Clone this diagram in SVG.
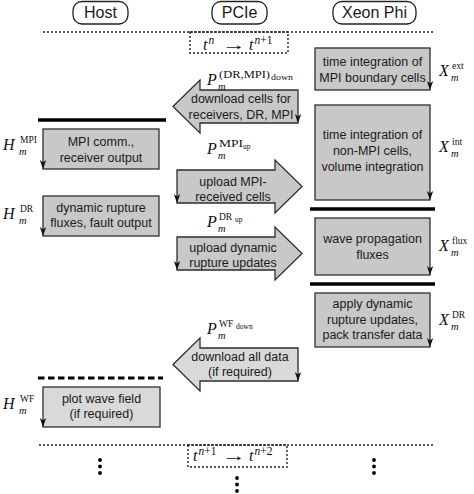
<svg xmlns="http://www.w3.org/2000/svg" xmlns:xlink="http://www.w3.org/1999/xlink" width="474" height="494" viewBox="0 0 474 494">
<style>
.bg{fill:#ffffff}
.box{fill:#c8c8c8;stroke:#2e2e2e;stroke-width:1.3}
.lt{fill:#d9d9d9}
.pill{fill:#ffffff;stroke:#222;stroke-width:1.3}
.t{font-family:"Liberation Sans",Arial,sans-serif;font-size:12.5px;fill:#1a1a1a;text-anchor:middle}
.hd{font-size:16px}
.mi{font-family:"Liberation Serif","Times New Roman",serif;font-style:italic;font-size:16px;fill:#111}
.mr{font-style:normal}
.sp{font-size:9.5px}
.ss{font-size:7.5px}
.sb{font-size:10.5px;font-style:italic}
.dot{fill:none;stroke:#222;stroke-width:1.4;stroke-dasharray:2 2}
.thick{stroke:#000;stroke-width:3.5;fill:none}
.dash{stroke:#000;stroke-width:3;stroke-dasharray:6.5 3.5;fill:none}
.ah{fill:#111}
.vd{fill:#000}
</style>
<defs>
<path id="ah" d="M0,0 L-3.2,-9 L0,-6.5 L3.2,-9 Z"/>
</defs>
<rect class="bg" x="0" y="0" width="474" height="494"/>

<g id="headers">
<g id="host-header"><rect class="pill" x="73" y="1.5" width="55" height="22.5" rx="9"/><text class="t hd" x="100.5" y="18">Host</text></g>
<g id="pcie-header"><rect class="pill" x="212" y="1.5" width="55" height="22.5" rx="9"/><text class="t hd" x="239.5" y="18">PCIe</text></g>
<g id="xeon-header"><rect class="pill" x="333" y="1.5" width="83" height="22.5" rx="9"/><text class="t hd" x="374.5" y="18">Xeon Phi</text></g>
</g>

<g id="connectors">
<line class="dot" x1="43" y1="32" x2="435" y2="32"/>
<line class="dot" x1="39" y1="445" x2="435" y2="445"/>
<line class="thick" x1="38" y1="120" x2="166" y2="120"/>
<line class="thick" x1="310" y1="209" x2="435" y2="209"/>
<line class="thick" x1="310" y1="284" x2="435" y2="284"/>
<line class="dash" x1="38" y1="378" x2="163" y2="378"/>
<circle class="vd" cx="100" cy="460" r="1.9"/><circle class="vd" cx="100" cy="466.5" r="1.9"/><circle class="vd" cx="100" cy="473" r="1.9"/>
<circle class="vd" cx="374" cy="460" r="1.9"/><circle class="vd" cx="374" cy="466.5" r="1.9"/><circle class="vd" cx="374" cy="473" r="1.9"/>
<circle class="vd" cx="237" cy="478" r="1.9"/><circle class="vd" cx="237" cy="484.5" r="1.9"/><circle class="vd" cx="237" cy="491" r="1.9"/>
</g>

<g id="step-1">
<rect class="dot" x="190" y="32" width="98" height="21"/>
<text class="mi" x="203" y="50">t<tspan x="208.5" dy="-6.5" style="font-size:11.5px">n</tspan><tspan class="mr" x="222" dy="6.5" textLength="24" lengthAdjust="spacingAndGlyphs">→</tspan><tspan x="249">t</tspan><tspan x="254.5" dy="-6.5" style="font-size:11.5px">n</tspan><tspan class="mr" style="font-size:11.5px">+1</tspan></text>
</g>

<g id="step-2">
<rect class="dot" x="188" y="445" width="99" height="22"/>
<text class="mi" x="193" y="461">t<tspan x="198.5" dy="-6.5" style="font-size:11.5px">n</tspan><tspan class="mr" style="font-size:11.5px">+1</tspan><tspan class="mr" x="222" dy="6.5" textLength="24" lengthAdjust="spacingAndGlyphs">→</tspan><tspan x="249">t</tspan><tspan x="254.5" dy="-6.5" style="font-size:11.5px">n</tspan><tspan class="mr" style="font-size:11.5px">+2</tspan></text>
</g>

<g id="x-ext">
<rect class="box" x="315" y="48" width="115" height="42"/>
<text class="t" x="372.5" y="65.5">time integration of</text>
<text class="t" x="372.5" y="81.5">MPI boundary cells</text>
<use xlink:href="#ah" href="#ah" class="ah" x="430" y="90"/>
<text class="mi" x="439" y="76">X<tspan class="mr sp" x="452" dy="-7">ext</tspan><tspan class="sb" x="451" dy="12">m</tspan></text>
</g>

<g id="x-int">
<rect class="box" x="315" y="105" width="115" height="95"/>
<text class="t" x="372.5" y="139">time integration of</text>
<text class="t" x="372.5" y="155">non-MPI cells,</text>
<text class="t" x="372.5" y="170.5">volume integration</text>
<use xlink:href="#ah" href="#ah" class="ah" x="430" y="200"/>
<text class="mi" x="439" y="152">X<tspan class="mr sp" x="452" dy="-7">int</tspan><tspan class="sb" x="451" dy="12">m</tspan></text>
</g>

<g id="x-flux">
<rect class="box" x="315" y="218" width="115" height="57"/>
<text class="t" x="372.5" y="243">wave propagation</text>
<text class="t" x="372.5" y="258.5">fluxes</text>
<use xlink:href="#ah" href="#ah" class="ah" x="430" y="275"/>
<text class="mi" x="439" y="251">X<tspan class="mr sp" x="452" dy="-7">flux</tspan><tspan class="sb" x="451" dy="12">m</tspan></text>
</g>

<g id="x-dr">
<rect class="box" x="315" y="293" width="115" height="54"/>
<text class="t" x="372.5" y="308">apply dynamic</text>
<text class="t" x="372.5" y="323.5">rupture updates,</text>
<text class="t" x="372.5" y="339">pack transfer data</text>
<use xlink:href="#ah" href="#ah" class="ah" x="430" y="347"/>
<text class="mi" x="439" y="325">X<tspan class="mr sp" x="452" dy="-7">DR</tspan><tspan class="sb" x="451" dy="12">m</tspan></text>
</g>

<g id="p-down-1">
<path class="box" d="M173,106.5 L200,80 L200,90 L298,90 L298,123 L200,123 L200,133 Z"/>
<text class="t" x="241" y="103">download cells for</text>
<text class="t" x="241" y="118.5">receivers, DR, MPI</text>
<use xlink:href="#ah" href="#ah" class="ah" x="298" y="123"/>
<text class="mi" x="207" y="85">P<tspan class="mr sp" x="219" dy="-7" textLength="51" lengthAdjust="spacingAndGlyphs">(DR,MPI)</tspan><tspan class="mr ss" x="271" dy="2" textLength="22" lengthAdjust="spacingAndGlyphs">down</tspan><tspan class="sb" x="218" dy="10">m</tspan></text>
</g>

<g id="p-up-mpi">
<path class="box" d="M177,170 L275,170 L275,160 L302,186.5 L275,213 L275,203 L177,203 Z"/>
<text class="t" x="233" y="186">upload MPI-</text>
<text class="t" x="233" y="201">received cells</text>
<use xlink:href="#ah" href="#ah" class="ah" x="177" y="203"/>
<text class="mi" x="207" y="154">P<tspan class="mr sp" x="219" dy="-7" textLength="24" lengthAdjust="spacingAndGlyphs">MPI</tspan><tspan class="mr ss" x="243" dy="2">up</tspan><tspan class="sb" x="218" dy="10">m</tspan></text>
</g>

<g id="p-up-dr">
<path class="box" d="M177,237 L275,237 L275,227 L302,253.5 L275,280 L275,270 L177,270 Z"/>
<text class="t" x="233" y="251.5">upload dynamic</text>
<text class="t" x="233" y="266.5">rupture updates</text>
<use xlink:href="#ah" href="#ah" class="ah" x="177" y="270"/>
<text class="mi" x="207" y="227">P<tspan class="mr sp" x="219" dy="-7">DR</tspan><tspan class="mr ss" x="235" dy="2">up</tspan><tspan class="sb" x="218" dy="10">m</tspan></text>
</g>

<g id="p-down-wf">
<path class="box lt" d="M173,364.5 L200,338 L200,348 L298,348 L298,381 L200,381 L200,391 Z"/>
<text class="t" x="240" y="361">download all data</text>
<text class="t" x="240" y="376">(if required)</text>
<use xlink:href="#ah" href="#ah" class="ah" x="298" y="381"/>
<text class="mi" x="207" y="334">P<tspan class="mr sp" x="219" dy="-7">WF</tspan><tspan class="mr ss" x="236" dy="2">down</tspan><tspan class="sb" x="218" dy="10">m</tspan></text>
</g>

<g id="h-mpi">
<rect class="box" x="43" y="129" width="116" height="40"/>
<text class="t" x="101" y="146">MPI comm.,</text>
<text class="t" x="101" y="161.5">receiver output</text>
<use xlink:href="#ah" href="#ah" class="ah" x="43" y="169"/>
<text class="mi" x="3" y="150">H<tspan class="mr sp" x="20" dy="-7">MPI</tspan><tspan class="sb" x="19" dy="12">m</tspan></text>
</g>

<g id="h-dr">
<rect class="box" x="43" y="196" width="116" height="40"/>
<text class="t" x="101" y="211.5">dynamic rupture</text>
<text class="t" x="101" y="227">fluxes, fault output</text>
<use xlink:href="#ah" href="#ah" class="ah" x="43" y="236"/>
<text class="mi" x="3" y="219">H<tspan class="mr sp" x="20" dy="-7">DR</tspan><tspan class="sb" x="19" dy="12">m</tspan></text>
</g>

<g id="h-wf">
<rect class="box lt" x="43" y="387" width="117" height="40"/>
<text class="t" x="101.5" y="402.5">plot wave field</text>
<text class="t" x="101.5" y="418">(if required)</text>
<use xlink:href="#ah" href="#ah" class="ah" x="43" y="427"/>
<text class="mi" x="3" y="409">H<tspan class="mr sp" x="20" dy="-7">WF</tspan><tspan class="sb" x="19" dy="12">m</tspan></text>
</g>
</svg>
